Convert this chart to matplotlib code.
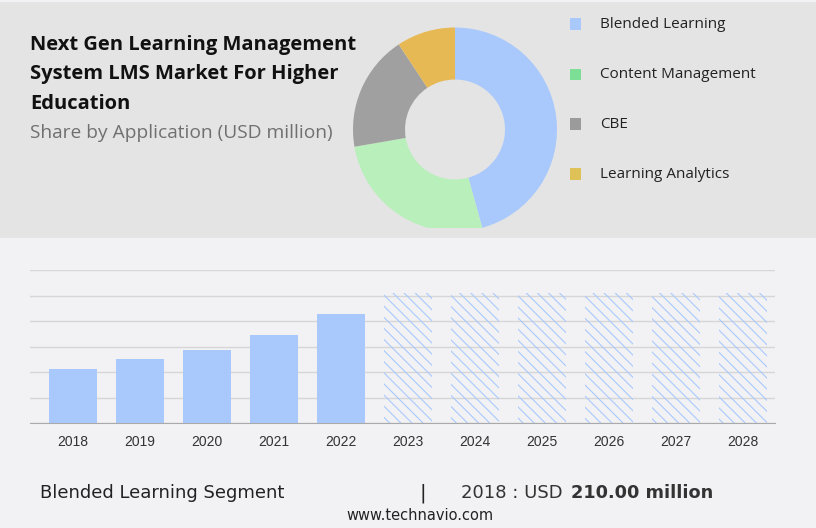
import matplotlib
matplotlib.use("Agg")
import matplotlib.pyplot as plt
from matplotlib.patches import Rectangle

W, H = 816, 528

# donut data (share by application)
segments = ["Blended Learning", "Content Management", "CBE", "Learning Analytics"]
shares = [45.7, 26.6, 18.4, 9.3]
pie_colors = ["#a9c9fd", "#b9efbb", "#a0a0a0", "#e7b955"]
legend_colors = ["#a9c9fd", "#7ddf95", "#9b9b9b", "#dfc257"]

# bar data (USD million)
years = ["2018", "2019", "2020", "2021", "2022", "2023", "2024", "2025", "2026", "2027", "2028"]
values = [210, 250, 288, 347, 429, 511, 511, 511, 511, 511, 511]
forecast = [False, False, False, False, False, True, True, True, True, True, True]

plt.rcParams["hatch.linewidth"] = 0.8


def px(x, y, w, h):
    # pixel box (top-left origin) -> figure fraction
    return [x / W, 1 - (y + h) / H, w / W, h / H]


fig = plt.figure(figsize=(W / 100, H / 100), dpi=100)
fig.patch.set_facecolor("#f2f2f4")

# grey header panel
fig.patches.append(Rectangle((0, 1 - 238 / H), 1, (238 - 2) / H, transform=fig.transFigure,
                             facecolor="#e4e4e4", edgecolor="none", zorder=-5))

fig.text(30 / W, 1 - 35 / H, "Next Gen Learning Management\nSystem LMS Market For Higher\nEducation",
         fontsize=14.5, fontweight="bold", family="Open Sans", color="#111111",
         va="top", ha="left", linespacing=1.62)
fig.text(30 / W, 1 - 133 / H, "Share by Application (USD million)", fontsize=13.8,
         family="Open Sans", color="#707070", va="center", ha="left")

# donut, clipped flat at the bottom of the header
r_px = 102
cx, cy = 455, 129.5
clip_y = 228
axp = fig.add_axes(px(cx - 106, cy - 106, 212, clip_y - (cy - 106)))
wedges, _ = axp.pie(shares, colors=pie_colors, startangle=90, counterclock=False,
                    wedgeprops=dict(width=0.51, linewidth=0))
axp.set_aspect("auto")
axp.set_xlim(-106 / r_px, 106 / r_px)
axp.set_ylim(-(clip_y - cy) / r_px, 106 / r_px)
axp.axis("off")
for w in wedges:
    w.set_clip_on(True)
    w.set_clip_path(axp.patch)

# legend
for i, (lab, col) in enumerate(zip(segments, legend_colors)):
    y = 24 + 50 * i
    fig.patches.append(Rectangle((570 / W, 1 - (y + 5.5) / H), 11 / W, 11 / H,
                                 transform=fig.transFigure, facecolor=col, edgecolor="none"))
    fig.text(600 / W, 1 - y / H, lab, fontsize=11, family="Open Sans", color="#222222",
             va="center", ha="left")

# bar chart
ax = fig.add_axes(px(30, 270, 745, 153))
ax.set_facecolor("none")
xs = list(range(len(years)))
for x, v, f in zip(xs, values, forecast):
    if f:
        ax.bar(x, v, width=0.72, facecolor="none", edgecolor="#a9c9fd", hatch="\\\\\\",
               linewidth=0, zorder=2)
    else:
        ax.bar(x, v, width=0.72, color="#a9c9fd", linewidth=0, zorder=2)
ax.set_xlim(-0.64, 10.48)
ax.set_ylim(0, 600)
ax.set_yticks(range(0, 601, 100))
ax.yaxis.grid(True, color="#d6d6d6", linewidth=1)
ax.set_axisbelow(True)
ax.tick_params(axis="y", left=False, labelleft=False)
ax.tick_params(axis="x", length=0, pad=9, labelsize=10, labelcolor="#333333")
ax.set_xticks(xs)
ax.set_xticklabels(years, family="Liberation Sans")
for s in ["top", "right", "left"]:
    ax.spines[s].set_visible(False)
ax.spines["bottom"].set_color("#aaaaaa")

# footer
fig.text(40 / W, 1 - 493 / H, "Blended Learning Segment", fontsize=13,
         color="#222222", va="center", ha="left")
fig.text(423 / W, 1 - 493 / H, "|", fontsize=14, color="#222222",
         va="center", ha="center")
fig.text(461 / W, 1 - 493 / H, "2018 : USD", fontsize=13,
         color="#333333", va="center", ha="left")
fig.text(571 / W, 1 - 493 / H, "210.00 million", fontsize=12.8,
         fontweight="bold", color="#333333", va="center", ha="left")
fig.text(420 / W, 1 - 516 / H, "www.technavio.com", fontsize=10.5,
         color="#222222", va="center", ha="center")

fig.savefig("out.png", dpi=100, facecolor=fig.get_facecolor())
